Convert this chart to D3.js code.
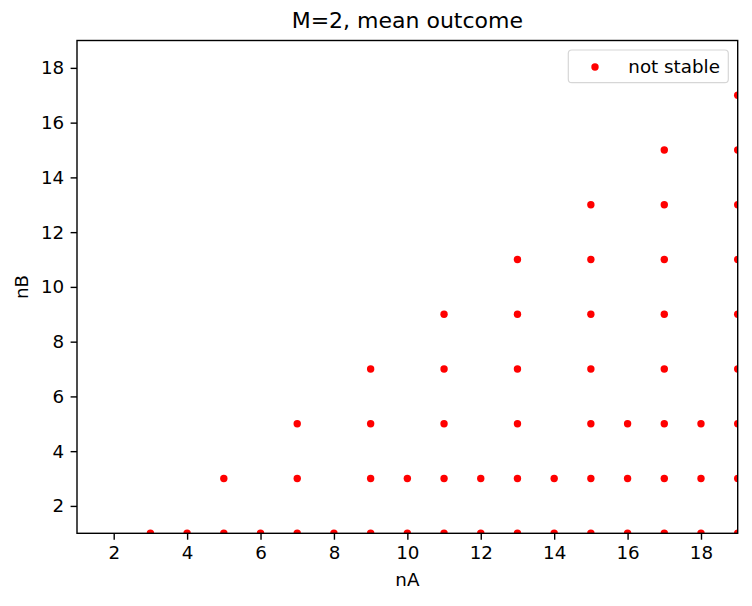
<!DOCTYPE html>
<html>
<head>
<meta charset="utf-8">
<script src="https://cdn.jsdelivr.net/npm/d3@7"></script>
<style>
  html, body { margin: 0; padding: 0; background: #fff; }
  svg { display: block; font-family: "DejaVu Sans", sans-serif; }
  .axis text { font-family: "DejaVu Sans", sans-serif; font-size: 18.3px; fill: #000; }
  .axis path, .axis line { stroke: #000; stroke-width: 1.4; }
</style>
</head>
<body>
<svg id="chart" width="752" height="606"></svg>
<script>
// "not stable" outcomes, M=2, mean outcome
const nAValues = [
  3, 4, 5, 6, 7, 8, 9, 10, 11, 12, 13, 14, 15, 16, 17, 18, 19,
  5, 7, 9, 10, 11, 12, 13, 14, 15, 16, 17, 18, 19,
  7, 9, 11, 13, 15, 16, 17, 18, 19,
  9, 11, 13, 15, 17, 19,
  11, 13, 15, 17, 19,
  13, 15, 17, 19,
  15, 17, 19,
  17, 19,
  19,
];
const nBValues = [
  1, 1, 1, 1, 1, 1, 1, 1, 1, 1, 1, 1, 1, 1, 1, 1, 1,
  3, 3, 3, 3, 3, 3, 3, 3, 3, 3, 3, 3, 3,
  5, 5, 5, 5, 5, 5, 5, 5, 5,
  7, 7, 7, 7, 7, 7,
  9, 9, 9, 9, 9,
  11, 11, 11, 11,
  13, 13, 13,
  15, 15,
  17,
];
const xDomain = [1, 19];
const yDomain = [1, 19];
const xTicks = [2, 4, 6, 8, 10, 12, 14, 16, 18];
const yTicks = [2, 4, 6, 8, 10, 12, 14, 16, 18];
const seriesName = "not stable";

const points = nAValues.map((a, i) => ({ nA: a, nB: nBValues[i] }));

const svg = d3.select("#chart");
const W = 752, H = 606;
const m = { l: 77, r: W - 737.7, t: 40.5, b: H - 533.3 };

const x = d3.scaleLinear().domain(xDomain).range([m.l, W - m.r]);
const y = d3.scaleLinear().domain(yDomain).range([H - m.b, m.t]);

svg.append("defs").append("clipPath").attr("id", "clip")
  .append("rect")
  .attr("x", m.l).attr("y", m.t)
  .attr("width", W - m.l - m.r).attr("height", H - m.t - m.b);

// points (clipped to the axes like matplotlib)
svg.append("g").attr("clip-path", "url(#clip)")
  .selectAll("circle").data(points).join("circle")
  .attr("cx", (d) => x(d.nA)).attr("cy", (d) => y(d.nB))
  .attr("r", 3.7).attr("fill", "#ff0000");

// axes
svg.append("g").attr("class", "axis")
  .attr("transform", `translate(0,${H - m.b})`)
  .call(d3.axisBottom(x).tickValues(xTicks).tickSize(6.4).tickPadding(6.4).tickSizeOuter(0))
  .call((g) => g.select(".domain").remove());
svg.append("g").attr("class", "axis")
  .attr("transform", `translate(${m.l},0)`)
  .call(d3.axisLeft(y).tickValues(yTicks).tickSize(6.4).tickPadding(6.4).tickSizeOuter(0))
  .call((g) => g.select(".domain").remove());

// frame
svg.append("rect")
  .attr("x", m.l).attr("y", m.t)
  .attr("width", W - m.l - m.r).attr("height", H - m.t - m.b)
  .attr("fill", "none").attr("stroke", "#000").attr("stroke-width", 1.4);

// labels
svg.append("text").attr("x", (m.l + W - m.r) / 2).attr("y", 28.3)
  .attr("text-anchor", "middle").style("font-size", "22px")
  .text("M=2, mean outcome");
svg.append("text").attr("x", (m.l + W - m.r) / 2).attr("y", 586)
  .attr("text-anchor", "middle").style("font-size", "18.3px")
  .text("nA");
svg.append("text")
  .attr("transform", `translate(28,${(m.t + H - m.b) / 2}) rotate(-90)`)
  .attr("text-anchor", "middle").style("font-size", "18.3px")
  .text("nB");

// legend
const lg = svg.append("g");
lg.append("rect").attr("x", 568.3).attr("y", 50).attr("width", 160).attr("height", 32.7)
  .attr("rx", 3.5).attr("fill", "#fff").attr("fill-opacity", 0.8)
  .attr("stroke", "#d6d6d6").attr("stroke-width", 1.2);
lg.append("circle").attr("cx", 595).attr("cy", 67).attr("r", 3.7).attr("fill", "#ff0000");
lg.append("text").attr("x", 628.3).attr("y", 72.7).style("font-size", "18.3px")
  .text(seriesName);
</script>
</body>
</html>
